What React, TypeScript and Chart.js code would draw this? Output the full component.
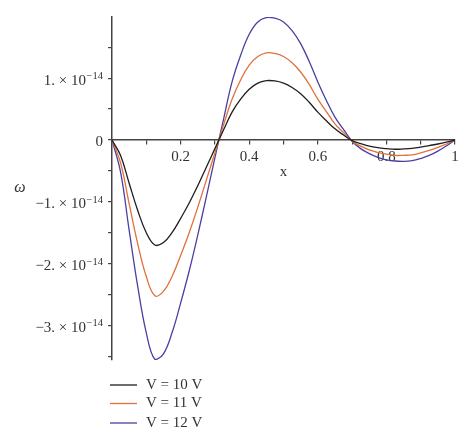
import { useEffect, useRef } from 'react';
import { Chart, registerables } from 'chart.js';

Chart.register(...registerables);

// x positions along the beam
const X_VALUES = [
  0, 0.025, 0.05, 0.075, 0.1, 0.125, 0.15, 0.175, 0.2, 0.225,
  0.25, 0.275, 0.3, 0.325, 0.35, 0.375, 0.4, 0.425, 0.45, 0.475,
  0.5, 0.525, 0.55, 0.575, 0.6, 0.625, 0.65, 0.675, 0.7, 0.725,
  0.75, 0.775, 0.8, 0.825, 0.85, 0.875, 0.9, 0.925, 0.95, 0.975, 1,
];

// omega values, in units of 1e-14
const OMEGA_V10 = [
  0, -0.25, -0.7, -1.14, -1.5, -1.7, -1.66, -1.5, -1.27, -1.02,
  -0.74, -0.44, -0.14, 0.16, 0.45, 0.66, 0.82, 0.92, 0.96, 0.955,
  0.92, 0.85, 0.75, 0.61, 0.45, 0.31, 0.18, 0.08, -0.01, -0.06,
  -0.1, -0.125, -0.14, -0.15, -0.145, -0.135, -0.115, -0.09, -0.065, -0.035, 0,
];
const OMEGA_V11 = [
  0, -0.37, -1.03, -1.68, -2.21, -2.52, -2.45, -2.21, -1.87, -1.5,
  -1.09, -0.65, -0.21, 0.24, 0.66, 0.97, 1.21, 1.35, 1.41, 1.4,
  1.35, 1.25, 1.1, 0.9, 0.66, 0.46, 0.26, 0.12, -0.02, -0.1,
  -0.16, -0.2, -0.23, -0.25, -0.248, -0.24, -0.21, -0.17, -0.12, -0.065, 0,
];
const OMEGA_V12 = [
  0, -0.52, -1.46, -2.37, -3.12, -3.55, -3.46, -3.12, -2.64, -2.12,
  -1.54, -0.92, -0.29, 0.33, 0.94, 1.37, 1.71, 1.91, 1.98, 1.97,
  1.91, 1.77, 1.56, 1.27, 0.94, 0.64, 0.37, 0.17, -0.02, -0.14,
  -0.22, -0.28, -0.32, -0.34, -0.345, -0.335, -0.3, -0.25, -0.18, -0.095, 0,
];

const SERIES_LABELS = ['V = 10 V', 'V = 11 V', 'V = 12 V'];
const SERIES_COLORS = ['#1e1e1e', '#e0703c', '#4a40a0'];

const Y_TICKS = [-3.5, -3, -2.5, -2, -1.5, -1, -0.5, 0, 0.5, 1, 1.5];
// [mantissa text, exponent text]
const Y_TICK_LABELS: Record<string, [string, string]> = {
  '-3': ['\u22123. \u00d7 10', '\u221214'],
  '-2': ['\u22122. \u00d7 10', '\u221214'],
  '-1': ['\u22121. \u00d7 10', '\u221214'],
  '0': ['0', ''],
  '1': ['1. \u00d7 10', '\u221214'],
};
const X_TICKS = [0.1, 0.2, 0.3, 0.4, 0.5, 0.6, 0.7, 0.8, 0.9, 1];
const X_TICK_LABELS: Record<string, string> = {
  '0.2': '0.2',
  '0.4': '0.4',
  '0.6': '0.6',
  '0.8': '0.8',
  '1': '1',
};
const X_TITLE = 'x';
const Y_TITLE = '\u03c9';

const FONT = '"Liberation Serif", "Times New Roman", serif';
const AXIS_COLOR = '#444';
const TEXT_COLOR = '#333';

const annotPlugin = {
  id: 'annot',
  afterDraw(chart: any) {
    const { ctx, chartArea } = chart;
    const xs = chart.scales.x;
    const ys = chart.scales.y;
    ctx.save();
    ctx.fillStyle = TEXT_COLOR;

    // y tick labels with superscript exponents
    ctx.textBaseline = 'alphabetic';
    ys.ticks.forEach((t: any) => {
      const lab = Y_TICK_LABELS[String(t.value)];
      if (!lab) return;
      const py = ys.getPixelForValue(t.value);
      let right = chartArea.left - 9;
      if (lab[1]) {
        ctx.font = `10.5px ${FONT}`;
        ctx.textAlign = 'right';
        ctx.fillText(lab[1], right, py + 1);
        right -= ctx.measureText(lab[1]).width + 0.5;
      }
      ctx.font = `15px ${FONT}`;
      ctx.textAlign = 'right';
      ctx.fillText(lab[0], right, py + 6.5);
    });

    // axis titles
    ctx.textBaseline = 'middle';
    ctx.textAlign = 'center';
    ctx.font = `15px ${FONT}`;
    ctx.fillText(X_TITLE, xs.getPixelForValue(0.5), ys.getPixelForValue(0) + 32);
    ctx.font = `italic 16px ${FONT}`;
    ctx.fillText(Y_TITLE, chartArea.left - 92, ys.getPixelForValue(-0.77));

    // legend
    ctx.textAlign = 'left';
    ctx.font = `15px ${FONT}`;
    const rows = [25, 43.5, 63];
    chart.data.datasets.forEach((ds: any, i: number) => {
      const y = chartArea.bottom + rows[i];
      ctx.strokeStyle = ds.borderColor;
      ctx.lineWidth = 1.3;
      ctx.beginPath();
      ctx.moveTo(chartArea.left - 2, y);
      ctx.lineTo(chartArea.left + 25, y);
      ctx.stroke();
      ctx.fillText(ds.label, chartArea.left + 34, y);
    });
    ctx.restore();
  },
};

export default function App() {
  const canvasRef = useRef<HTMLCanvasElement | null>(null);

  useEffect(() => {
    const canvas = canvasRef.current;
    if (!canvas) return;
    const series = [OMEGA_V10, OMEGA_V11, OMEGA_V12];
    const chart = new Chart(canvas, {
      type: 'line',
      data: {
        datasets: series.map((vals, i) => ({
          label: SERIES_LABELS[i],
          data: X_VALUES.map((x, j) => ({ x, y: vals[j] })),
          borderColor: SERIES_COLORS[i],
          backgroundColor: SERIES_COLORS[i],
          borderWidth: 1.3,
          pointRadius: 0,
          tension: 0.4,
          fill: false,
        })),
      },
      options: {
        animation: false,
        responsive: true,
        maintainAspectRatio: false,
        layout: { padding: { top: 17, right: 19, bottom: 85, left: 0 } },
        plugins: {
          legend: { display: false },
          tooltip: { enabled: false },
        },
        scales: {
          x: {
            type: 'linear',
            min: 0,
            max: 1,
            position: { y: 0 } as any,
            border: { display: true, color: AXIS_COLOR, width: 1.5 },
            grid: {
              display: true,
              drawOnChartArea: false,
              drawTicks: true,
              tickLength: 4,
              color: AXIS_COLOR,
              lineWidth: 1.2,
            },
            afterBuildTicks: (scale: any) => {
              scale.ticks = X_TICKS.map((v) => ({ value: v }));
            },
            ticks: {
              autoSkip: false,
              maxRotation: 0,
              padding: 4,
              color: TEXT_COLOR,
              font: { family: FONT, size: 15 },
              callback: (v: any) => X_TICK_LABELS[String(v)] ?? '',
            },
          },
          y: {
            type: 'linear',
            min: -3.56,
            max: 1.99,
            position: 'left',
            border: { display: true, color: AXIS_COLOR, width: 1.5 },
            grid: {
              display: true,
              drawOnChartArea: false,
              drawTicks: true,
              tickLength: 4,
              color: AXIS_COLOR,
              lineWidth: 1.2,
            },
            afterBuildTicks: (scale: any) => {
              scale.ticks = Y_TICKS.map((v) => ({ value: v }));
            },
            afterFit: (scale: any) => {
              scale.width = 112;
            },
            ticks: {
              autoSkip: false,
              padding: 3,
              color: TEXT_COLOR,
              font: { family: FONT, size: 15 },
              // labels are drawn with superscripts by the annot plugin
              callback: () => '',
            },
          },
        },
      },
      plugins: [annotPlugin],
    });
    return () => chart.destroy();
  }, []);

  return (
    <div style={{ position: 'absolute', left: 0, top: 0, width: 474, height: 445, background: '#fff' }}>
      <canvas ref={canvasRef} />
    </div>
  );
}
